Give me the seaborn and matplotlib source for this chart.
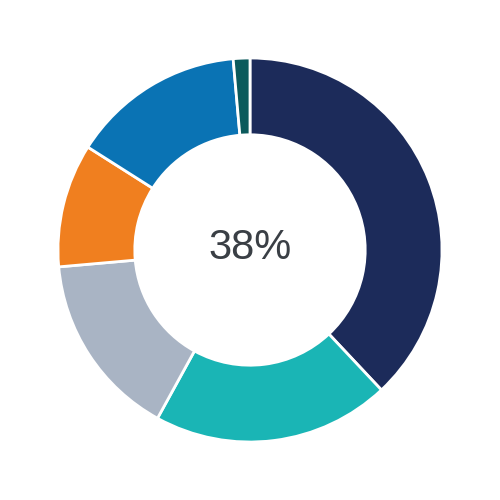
import matplotlib
matplotlib.use("Agg")
import matplotlib.pyplot as plt
import seaborn as sns

sns.set_theme(style="white")
plt.rcParams['font.family'] = ['Liberation Sans', 'DejaVu Sans']

# slice shares (percent), clockwise from the top
labels = ["A", "B", "C", "D", "E", "F"]
values = [38, 20, 15.6, 10.4, 14.6, 1.4]
colors = ["#1c2b5a", "#1ab5b5", "#a9b4c4", "#f07f1f", "#0a73b4", "#0b5a5c"]
center_text = "38%"

fig = plt.figure(figsize=(5, 5), dpi=100)
ax = fig.add_axes([0, 0, 1, 1])
ax.pie(values, colors=colors, startangle=90, counterclock=False,
       radius=1.0,
       wedgeprops=dict(width=0.40, edgecolor="white", linewidth=2))
ax.text(0, 0.01, center_text, ha="center", va="center", fontsize=30, color="#3a3f45")
ax.set_xlim(-1.302, 1.302)
ax.set_ylim(-1.302, 1.302)
ax.set_aspect("equal")
ax.axis("off")

fig.savefig("out.png", dpi=100, facecolor="white")
